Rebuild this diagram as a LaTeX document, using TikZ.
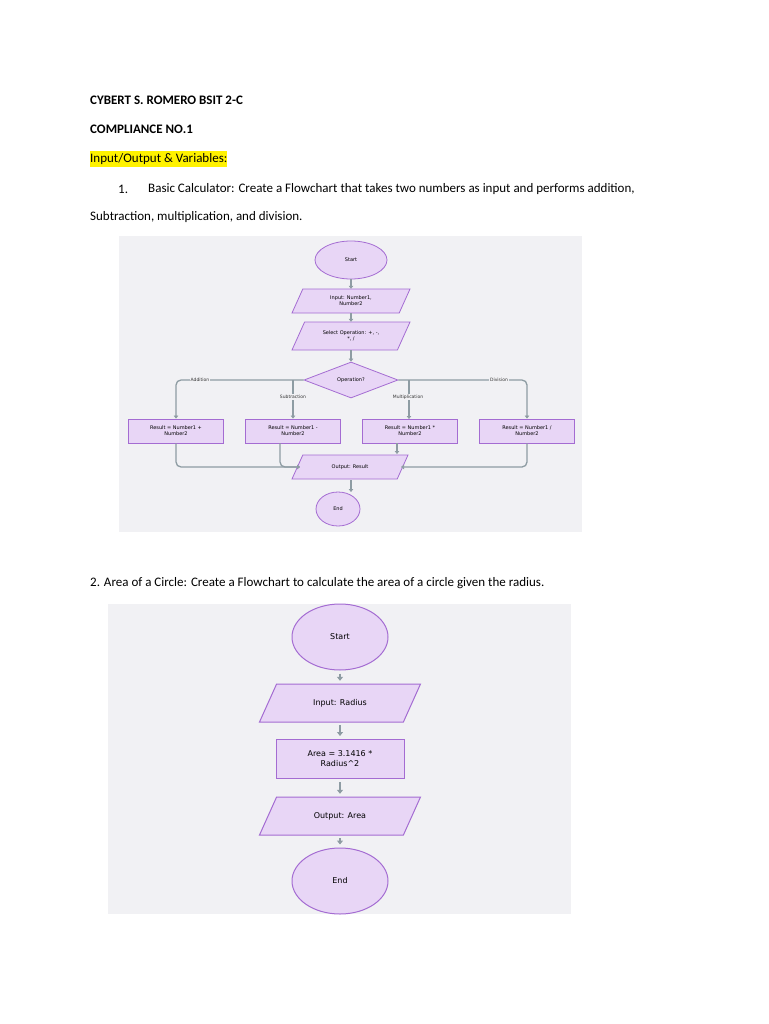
\documentclass[tikz,border=0pt]{standalone}
\usepackage{fontspec}
\setmainfont{Carlito}
\newfontfamily\fc{DejaVu Sans}
\usetikzlibrary{shapes.geometric,arrows.meta}
\definecolor{pfill}{HTML}{E8D6F6}
\definecolor{pdraw}{HTML}{A46CD2}
\definecolor{gline}{HTML}{8E9CA3}
\definecolor{bgc}{HTML}{F1F1F4}
\newcommand{\pgram}[6]{% name, x, y, width, height, slant-half
 \fill[pfill,draw=pdraw,line width=#6] (#2-#4/2,#3+#5/2) -- (#2+#4/2-#5*0.45,#3+#5/2) -- (#2+#4/2,#3-#5/2) -- (#2-#4/2+#5*0.45,#3-#5/2) -- cycle;
 \node[minimum width=#4-#5*0.45,minimum height=#5,inner sep=0pt] (#1) at (#2,#3) {};}
\begin{document}
\begin{tikzpicture}[x=1pt,y=-1pt,
 doc/.style={anchor=west,inner sep=0pt,font=\fontsize{13}{15}\selectfont},
 fa/.style={draw=pdraw,fill=pfill,line width=0.8pt,font=\fc\fontsize{5}{6}\selectfont,align=center,inner sep=1pt},
 ta/.style={font=\fc\fontsize{5}{6}\selectfont,align=center,inner sep=0pt},
 fb/.style={draw=pdraw,fill=pfill,line width=1pt,font=\fc\fontsize{8}{10}\selectfont,align=center,inner sep=1pt},
 tb/.style={font=\fc\fontsize{8}{10}\selectfont,align=center,inner sep=0pt},
 oval/.style={ellipse},
 ln/.style={draw=gline,line width=1.3pt,rounded corners=5pt},
 ar/.style={ln,-{Triangle[length=3pt,width=4.5pt]}},
 arb/.style={draw=gline,line width=1.6pt,-{Triangle[length=4pt,width=6pt]}},
 lab/.style={font=\fc\fontsize{4.5}{5}\selectfont,fill=bgc,inner sep=1pt,text=black!80}]
\useasboundingbox (0,0) rectangle (768,1024);
\fill[white] (0,0) rectangle (768,1024);
\node[doc,font=\bfseries\fontsize{13}{15}\selectfont] at (90,100) {CYBERT S. ROMERO BSIT 2-C};
\node[doc,font=\bfseries\fontsize{13}{15}\selectfont] at (90,129) {COMPLIANCE NO.1};
\node[doc,fill=yellow,inner ysep=2pt] at (90,159) {Input/Output \& Variables:};
\node[doc] at (118,189) {1.};
\node[doc] at (148,189) {Basic Calculator: Create a Flowchart that takes two numbers as input and performs addition,};
\node[doc] at (90,217) {Subtraction, multiplication, and division.};
\node[doc] at (90,583) {2. Area of a Circle: Create a Flowchart to calculate the area of a circle given the radius.};
% chart 1
\fill[bgc] (119,236) rectangle (582,532);
\node[fa,oval,minimum width=72pt,minimum height=38pt] (s1) at (351,260) {Start};
\pgram{in1}{351}{301}{118}{24}{0.8pt}
\node[ta] at (in1) {Input: Number1,\\Number2};
\pgram{op1}{351}{336}{118}{28}{0.8pt}
\node[ta] at (op1) {Select Operation: +, -,\\*, /};
\node[fa,diamond,aspect=2.6,minimum width=94pt,minimum height=36pt,inner sep=0pt] (d1) at (351,380) {Operation?};
\node[fa,minimum width=95pt,minimum height=24pt] (ra) at (176,431) {Result = Number1 +\\Number2};
\node[fa,minimum width=95pt,minimum height=24pt] (rs) at (293,431) {Result = Number1 -\\Number2};
\node[fa,minimum width=95pt,minimum height=24pt] (rm) at (410,431) {Result = Number1 *\\Number2};
\node[fa,minimum width=95pt,minimum height=24pt] (rd) at (527,431) {Result = Number1 /\\Number2};
\pgram{o1}{350}{467}{116}{24}{0.8pt}
\node[ta] at (o1) {Output: Result};
\node[fa,oval,minimum width=44pt,minimum height=34pt] (e1) at (338,509) {End};
\draw[ar] (s1) -- (in1);
\draw[ar] (in1) -- (op1);
\draw[ar] (op1) -- (d1);
\coordinate (jl) at (293,380); \coordinate (jr) at (409,380);
\draw[ar] (d1.west) -- (176,380) -- (ra.north);
\draw[ar] (jl) -- (rs.north);
\draw[ar] (jr) -- (409,419);
\draw[ar] (d1.east) -- (527,380) -- (rd.north);
\node[lab] at (200,380) {Addition};
\node[lab] at (293,397) {Subtraction};
\node[lab] at (408,397) {Multiplication};
\node[lab] at (499,380) {Division};
\draw[ar] (ra.south) -- (176,467) -- (300,467);
\draw[ar] (280,443) -- (280,467) -- (300,467);
\draw[ar] (397,443) -- (397,454);
\draw[ar] (rd.south) -- (527,467) -- (401,467);
\draw[ar] (351,480) -- (351,492);
% chart 2
\fill[bgc] (108,604) rectangle (571,914);
\node[fb,oval,minimum width=96pt,minimum height=66pt] (s2) at (340,637) {Start};
\pgram{in2}{340}{703}{161}{38}{1pt}
\node[tb] at (in2) {Input: Radius};
\node[fb,rectangle,minimum width=128pt,minimum height=39pt] (a2) at (340,759) {Area = 3.1416 *\\Radius\^{}2};
\pgram{o2}{340}{816}{161}{38}{1pt}
\node[tb] at (o2) {Output: Area};
\node[fb,oval,minimum width=96pt,minimum height=66pt] (e2) at (340,881) {End};
\foreach \a/\b in {s2/in2,in2/a2,a2/o2,o2/e2}{\draw[arb,shorten <=3pt,shorten >=3pt] (\a) -- (\b);}
\end{tikzpicture}
\end{document}
